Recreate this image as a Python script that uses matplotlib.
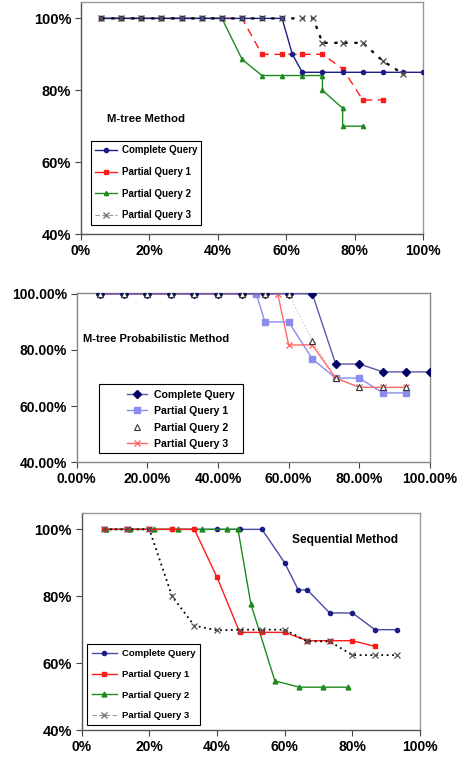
import matplotlib
matplotlib.use("Agg")
import matplotlib.pyplot as plt
from matplotlib.lines import Line2D
from matplotlib.patches import Rectangle

plt.rcParams['font.family'] = ['Liberation Sans', 'DejaVu Sans']

# ---------------- data ----------------
series_names = ["Complete Query", "Partial Query 1", "Partial Query 2", "Partial Query 3"]

# M-tree Method
mt_cq_x = [5.9, 11.8, 17.6, 23.5, 29.4, 35.3, 41.2, 47.1, 52.9, 58.8, 61.8, 64.7, 70.6, 76.5, 82.4, 88.2, 94.1, 100]
mt_cq_y = [100, 100, 100, 100, 100, 100, 100, 100, 100, 100, 90, 85, 85, 85, 85, 85, 85, 85]
mt_pq1_x = [5.9, 11.8, 17.6, 23.5, 29.4, 35.3, 41.2, 47.1, 52.9, 58.8, 64.7, 70.6, 76.5, 82.4, 88.2]
mt_pq1_y = [100, 100, 100, 100, 100, 100, 100, 100, 90, 90, 90, 90, 86, 77.3, 77.3]
mt_pq2_x = [5.9, 11.8, 17.6, 23.5, 29.4, 35.3, 41.2, 47.1, 52.9, 58.8, 64.7, 70.6, 70.6, 76.5, 76.5, 82.4]
mt_pq2_y = [100, 100, 100, 100, 100, 100, 100, 88.6, 84.1, 84.1, 84.1, 84.1, 80, 75, 70, 70]
mt_pq3_x = [5.9, 11.8, 17.6, 23.5, 29.4, 35.3, 41.2, 47.1, 52.9, 58.8, 64.7, 67.9, 70.6, 76.5, 82.4, 88.2, 94.1]
mt_pq3_y = [100, 100, 100, 100, 100, 100, 100, 100, 100, 100, 100, 100, 93.2, 93.2, 93.2, 88.2, 84.6]

# M-tree Probabilistic Method
pr_cq_x = [6.7, 13.3, 20, 26.7, 33.3, 40, 46.7, 53.3, 60, 66.7, 73.3, 80, 86.7, 93.3, 100]
pr_cq_y = [100, 100, 100, 100, 100, 100, 100, 100, 100, 100, 75, 75, 72.2, 72.2, 72.2]
pr_pq1_x = [6.7, 13.3, 20, 26.7, 33.3, 40, 46.7, 50.8, 53.3, 60, 66.7, 73.3, 80, 86.7, 93.3]
pr_pq1_y = [100, 100, 100, 100, 100, 100, 100, 100, 90, 90, 76.8, 70, 70, 64.7, 64.7]
pr_pq2_x = [6.7, 13.3, 20, 26.7, 33.3, 40, 46.7, 53.3, 60, 66.7, 73.3, 80, 86.7, 93.3]
pr_pq2_y = [100, 100, 100, 100, 100, 100, 100, 100, 100, 83.3, 70, 66.7, 66.7, 66.7]
pr_pq3_x = [6.7, 13.3, 20, 26.7, 33.3, 40, 46.7, 53.3, 56.9, 60, 66.7, 73.3, 80, 86.7, 93.3]
pr_pq3_y = [100, 100, 100, 100, 100, 100, 100, 100, 100, 81.8, 81.8, 70, 66.7, 66.7, 66.7]

# Sequential Method
sq_cq_x = [6.7, 13.3, 20, 26.7, 33.3, 40, 46.7, 53.3, 60, 64, 66.7, 73.3, 80, 86.7, 93.3]
sq_cq_y = [100, 100, 100, 100, 100, 100, 100, 100, 90, 81.9, 81.9, 75, 75, 70, 70]
sq_pq1_x = [6.7, 13.3, 20, 26.7, 33.3, 40, 46.7, 53.3, 60, 66.7, 73.3, 80, 86.7]
sq_pq1_y = [100, 100, 100, 100, 100, 85.7, 69.2, 69.2, 69.2, 66.7, 66.7, 66.7, 65]
sq_pq2_x = [7.1, 14.3, 21.4, 28.6, 35.7, 42.9, 46.2, 50, 57.1, 64.3, 71.4, 78.6]
sq_pq2_y = [100, 100, 100, 100, 100, 100, 100, 77.7, 54.7, 52.8, 52.8, 52.8]
sq_pq3_x = [6.7, 13.3, 20, 26.7, 33.3, 40, 46.7, 53.3, 60, 66.7, 73.3, 80, 86.7, 93.3]
sq_pq3_y = [100, 100, 100, 80, 71.2, 69.8, 70, 70, 70, 66.5, 66.5, 62.4, 62.4, 62.4]

x_ticks = [0, 20, 40, 60, 80, 100]
y_ticks = [40, 60, 80, 100]
x_labels_int = ["0%", "20%", "40%", "60%", "80%", "100%"]
y_labels_int = ["40%", "60%", "80%", "100%"]
x_labels_dec = ["0.00%", "20.00%", "40.00%", "60.00%", "80.00%", "100.00%"]
y_labels_dec = ["40.00%", "60.00%", "80.00%", "100.00%"]

W, H = 474, 765
fig = plt.figure(figsize=(W / 100, H / 100), dpi=100)


def px_axes(l, t, r, b):
    return fig.add_axes([l / W, 1 - b / H, (r - l) / W, (b - t) / H])


def style_axes(ax, ylim, xl, yl, fs_y=10, fs_x=10):
    ax.set_xlim(0, 100)
    ax.set_ylim(*ylim)
    ax.set_xticks(x_ticks)
    ax.set_yticks(y_ticks)
    ax.set_xticklabels(xl, fontsize=fs_x, fontweight='bold')
    ax.set_yticklabels(yl, fontsize=fs_y, fontweight='bold')
    ax.tick_params(direction='out', length=4, width=0.8, color='#444444', pad=3)
    for s in ['left', 'bottom']:
        ax.spines[s].set_color('#555555')
        ax.spines[s].set_linewidth(1.0)
    for s in ['top', 'right']:
        ax.spines[s].set_color('#999999')
        ax.spines[s].set_linewidth(1.0)


# ---------------- Panel 1: M-tree Method ----------------
ax1 = px_axes(81, 1.5, 423, 234)
navy = '#1c1c86'
c_red = '#ff1a1a'
c_green = '#1d8a1d'
ax1.plot(mt_cq_x, mt_cq_y, color=navy, lw=1.0, marker='o', ms=3, zorder=4)
ax1.plot(mt_pq1_x, mt_pq1_y, color=c_red, lw=1.0, ls=(0, (6, 4)), marker='s', ms=2.5, zorder=3)
ax1.plot(mt_pq2_x, mt_pq2_y, color=c_green, lw=1.0, marker='^', ms=3, zorder=3)
ax1.plot(mt_pq3_x, mt_pq3_y, color='black', lw=1.6, ls=(0, (1.5, 3)), zorder=5)
ax1.plot(mt_pq3_x, mt_pq3_y, ls='none', marker='x', ms=4, mec='#555555', mew=1.0, zorder=5)
style_axes(ax1, (40, 104.7), x_labels_int, y_labels_int, fs_y=10.5, fs_x=10)
ax1.text(0.075, 0.495, "M-tree Method", transform=ax1.transAxes, fontsize=8.2,
         fontweight='bold', va='center', ha='left')
h1 = [Line2D([], [], color=navy, lw=1.0, marker='o', ms=3),
      Line2D([], [], color=c_red, lw=1.0, marker='s', ms=2.5),
      Line2D([], [], color=c_green, lw=1.0, marker='^', ms=3),
      Line2D([], [], color='#999999', lw=0.8, ls=(0, (4, 2)), marker='x', ms=4, mec='#777777')]
leg1 = ax1.legend(h1, series_names, loc='upper left', bbox_to_anchor=(0.029, 0.40),
                  frameon=True, fancybox=False, edgecolor='black', framealpha=1,
                  prop={'size': 7, 'weight': 'bold'}, handlelength=2.2, handletextpad=0.5,
                  labelspacing=1.2, borderpad=0.45, borderaxespad=0)
leg1.get_frame().set_linewidth(0.8)

# ---------------- Panel 2: M-tree Probabilistic Method ----------------
ax2 = px_axes(76.7, 293, 430, 462.3)
c_navy2 = '#000066'
c_line2 = '#5a5aa8'
c_lb = '#8c8cee'
c_salmon = '#ff6a6a'
ax2.plot(pr_pq2_x, pr_pq2_y, color='#bbbbbb', lw=0.8, ls=(0, (1, 2)), zorder=2)
ax2.plot(pr_pq1_x, pr_pq1_y, color=c_lb, lw=1.0, marker='s', ms=4, zorder=3)
ax2.plot(pr_pq3_x, pr_pq3_y, color=c_salmon, lw=1.0, marker='x', ms=4, mew=1.0, zorder=4)
ax2.plot(pr_cq_x, pr_cq_y, color=c_line2, lw=1.0, marker='D', ms=4, mfc=c_navy2, mec=c_navy2, zorder=5)
ax2.plot(pr_pq2_x, pr_pq2_y, ls='none', marker='^', ms=4, mfc='white', mec='#333333', mew=0.8, zorder=6)
style_axes(ax2, (40, 100.3), x_labels_dec, y_labels_dec, fs_y=10, fs_x=10)
for s in ['left', 'bottom', 'top', 'right']:
    ax2.spines[s].set_color('#888888')
ax2.text(0.017, 0.73, "M-tree Probabilistic Method", transform=ax2.transAxes, fontsize=8.0,
         fontweight='bold', va='center', ha='left')
h2 = [Line2D([], [], color=c_line2, lw=1.0, marker='D', ms=4, mfc=c_navy2, mec=c_navy2),
      Line2D([], [], color=c_lb, lw=1.0, marker='s', ms=4),
      Line2D([], [], ls='none', marker='^', ms=4, mfc='white', mec='#333333', mew=0.8),
      Line2D([], [], color=c_salmon, lw=1.0, marker='x', ms=4)]
ax2.add_patch(Rectangle((0.064, 0.057), 0.408, 0.407, transform=ax2.transAxes,
                        facecolor='white', edgecolor='black', lw=0.8, zorder=7))
leg2 = ax2.legend(h2, series_names, loc='upper left', bbox_to_anchor=(0.142, 0.43),
                  frameon=False, prop={'size': 7.6, 'weight': 'bold'},
                  handlelength=1.95, handletextpad=0.6,
                  labelspacing=0.62, borderpad=0, borderaxespad=0)
leg2.set_zorder(8)

# ---------------- Panel 3: Sequential Method ----------------
ax3 = px_axes(81.7, 513.3, 420, 730)
c_line3 = '#4a4aa8'
ax3.plot(sq_cq_x, sq_cq_y, color=c_line3, lw=1.0, marker='o', ms=3, mfc=navy, mec=navy, zorder=3)
ax3.plot(sq_pq2_x, sq_pq2_y, color=c_green, lw=1.0, marker='^', ms=3.5, zorder=3)
ax3.plot(sq_pq1_x, sq_pq1_y, color=c_red, lw=1.0, marker='s', ms=3.5, zorder=4)
ax3.plot(sq_pq3_x, sq_pq3_y, color='black', lw=1.3, ls=(0, (1, 2)), zorder=5)
ax3.plot(sq_pq3_x, sq_pq3_y, ls='none', marker='x', ms=5, mec='#555555', mew=0.9, zorder=5)
style_axes(ax3, (40, 104.8), x_labels_int, y_labels_int, fs_y=10.5, fs_x=10)
ax3.text(0.621, 0.878, "Sequential Method", transform=ax3.transAxes, fontsize=8.6,
         fontweight='bold', va='center', ha='left')
h3 = [Line2D([], [], color=c_line3, lw=1.0, marker='o', ms=3, mfc=navy, mec=navy),
      Line2D([], [], color=c_red, lw=1.0, marker='s', ms=3),
      Line2D([], [], color=c_green, lw=1.0, marker='^', ms=3.5),
      Line2D([], [], color='#999999', lw=0.8, ls=(0, (4, 2)), marker='x', ms=4, mec='#777777')]
leg3 = ax3.legend(h3, series_names, loc='upper left', bbox_to_anchor=(0.0166, 0.3955),
                  frameon=True, fancybox=False, edgecolor='black', framealpha=1,
                  prop={'size': 6.8, 'weight': 'bold'}, handlelength=2.6, handletextpad=0.6,
                  labelspacing=1.25, borderpad=0.5, borderaxespad=0)
leg3.get_frame().set_linewidth(0.8)

fig.savefig("out.png", dpi=100, facecolor='white')
